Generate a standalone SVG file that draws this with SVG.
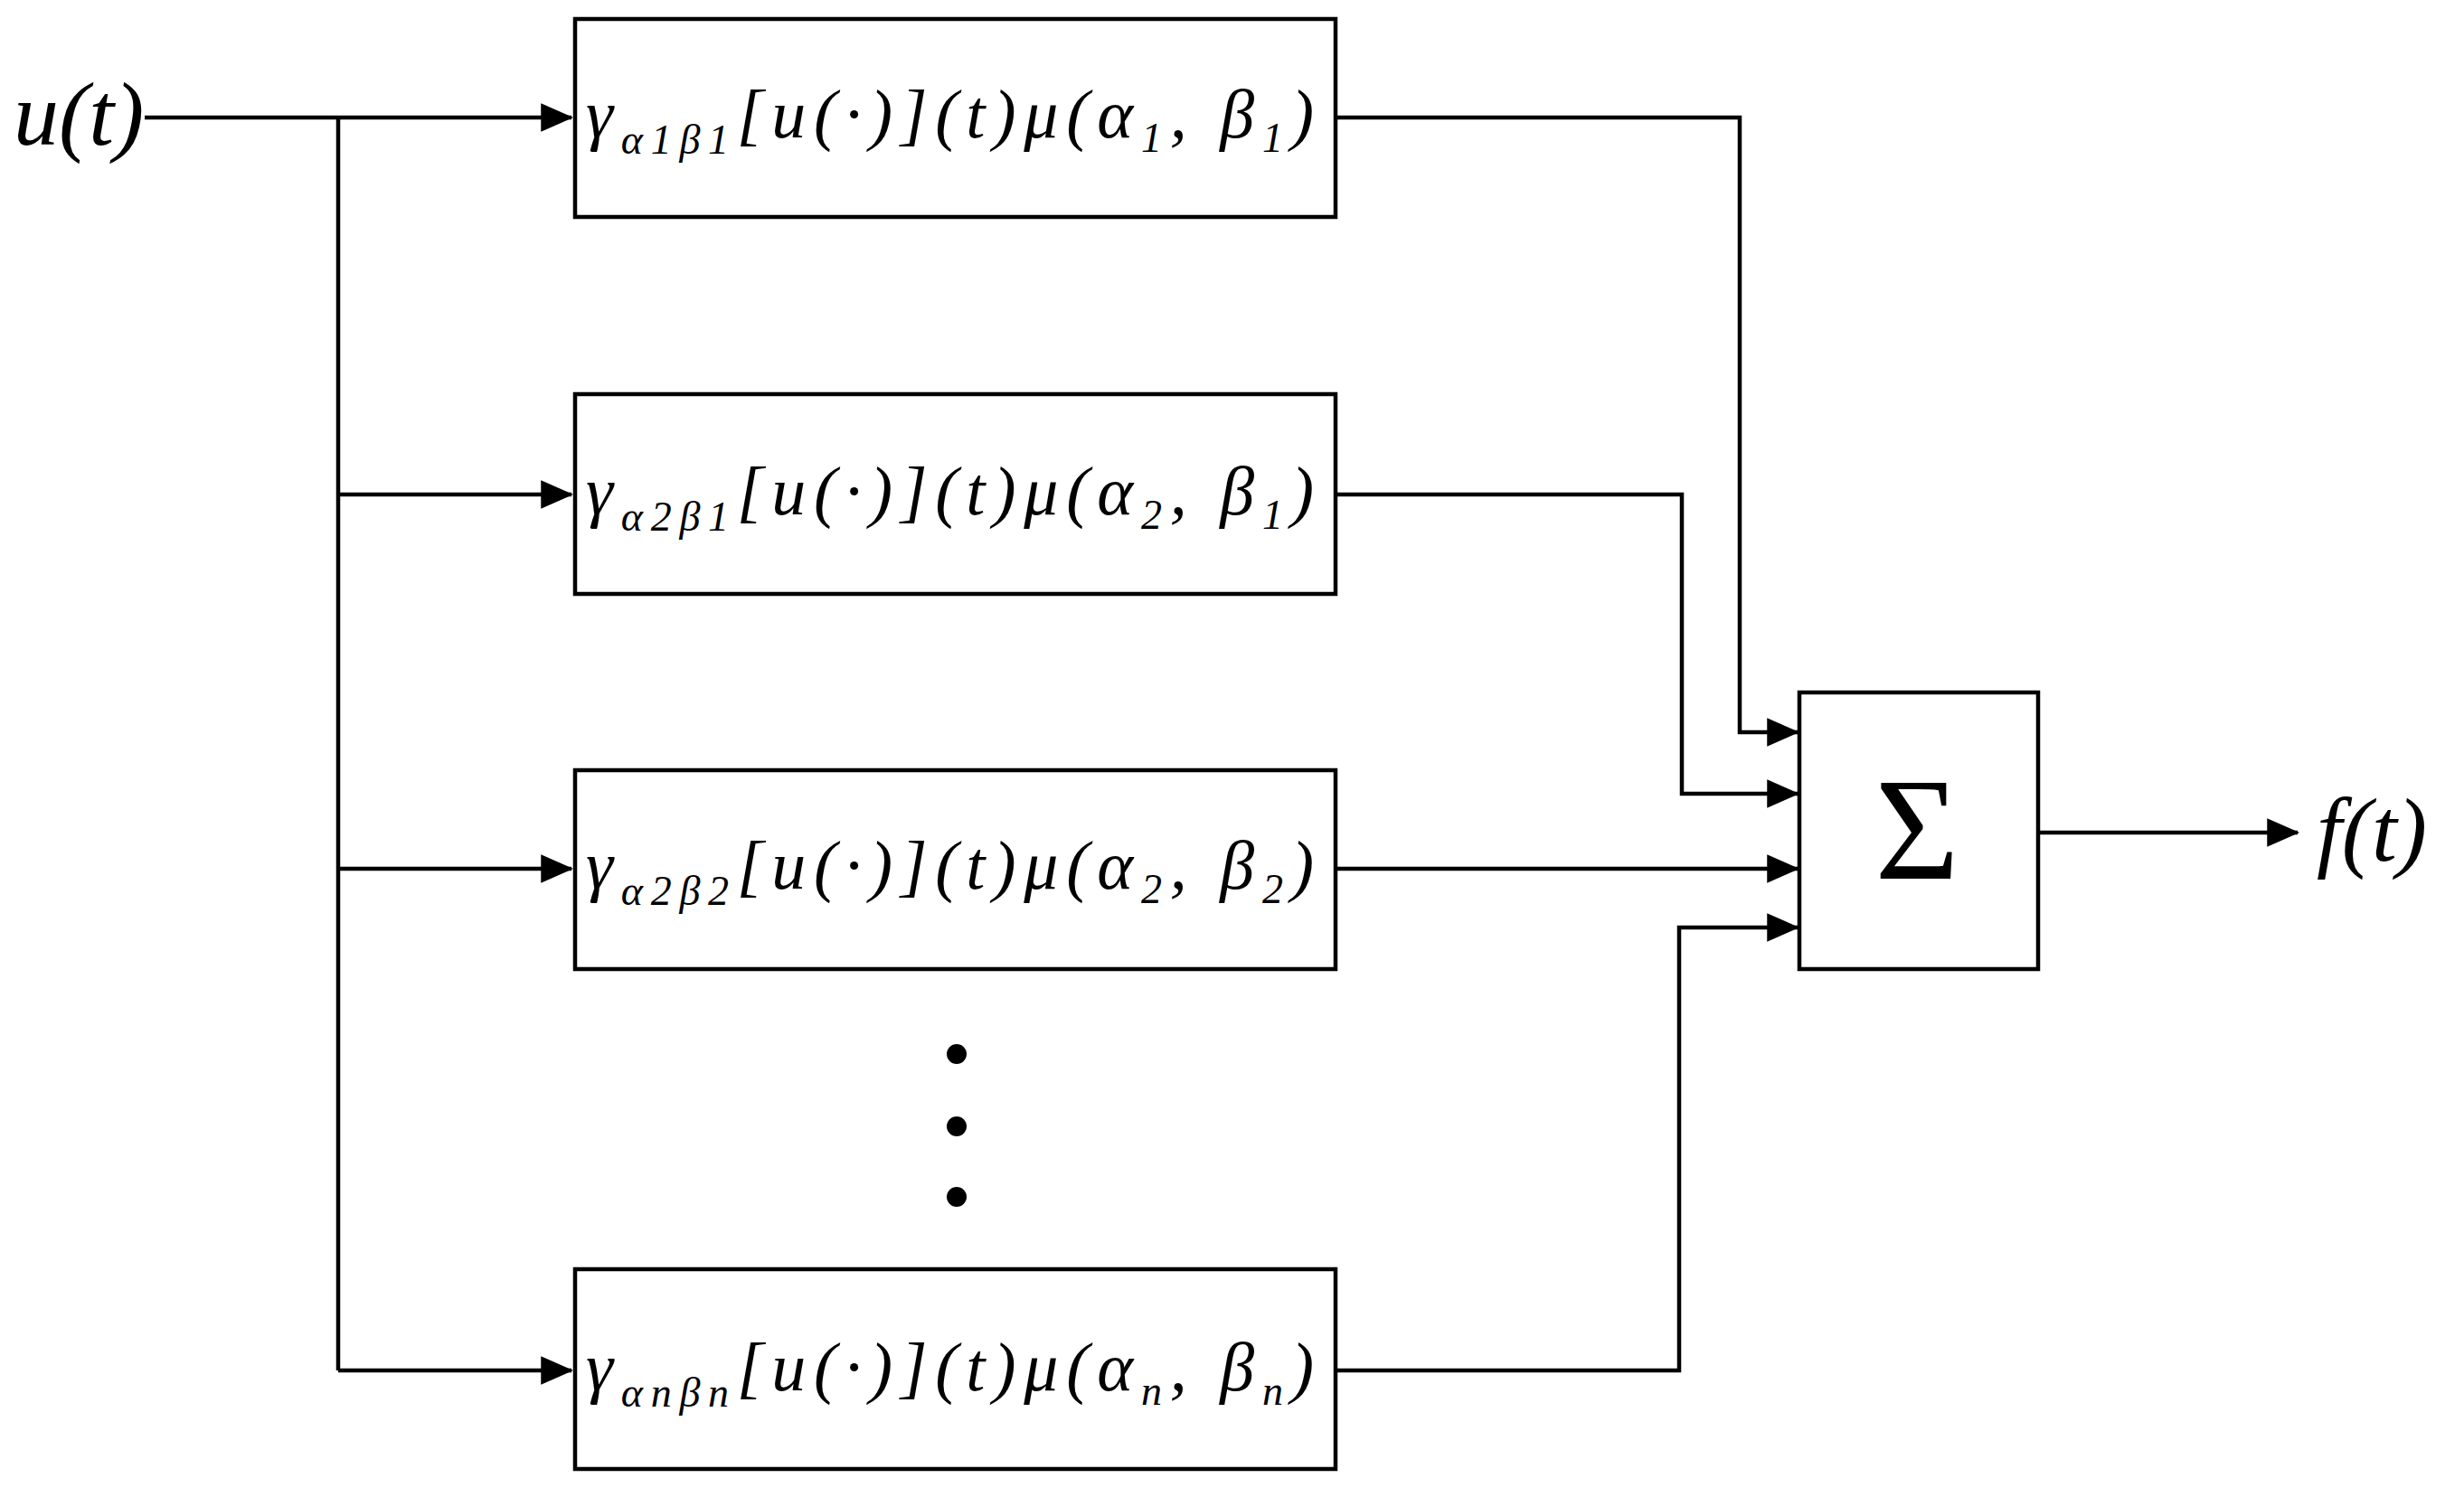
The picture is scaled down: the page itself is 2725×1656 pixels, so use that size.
<svg xmlns="http://www.w3.org/2000/svg" width="2725" height="1656" viewBox="0 0 2725 1656">
<style>
.box{fill:#fff;stroke:#000;stroke-width:4.5}
.ln{fill:none;stroke:#000;stroke-width:4.5}
.t{font-family:"Liberation Serif","DejaVu Serif",serif;font-style:italic;font-size:76px;fill:#000}
.s{font-size:46px}
.big{font-family:"Liberation Serif","DejaVu Serif",serif;font-style:italic;font-size:100px;fill:#000}
</style>
<defs>
<marker id="a" markerWidth="8" markerHeight="7" refX="7.5" refY="3.5" orient="auto" markerUnits="strokeWidth"><path d="M0,0 L8,3.5 L0,7 Z" fill="#000"/></marker>
</defs>
<rect width="2725" height="1656" fill="#fff"/>
<g id="connectors">
<path class="ln" d="M160,130 H632" marker-end="url(#a)"/>
<path class="ln" d="M374,130 V1516"/>
<path class="ln" d="M374,547 H632" marker-end="url(#a)"/>
<path class="ln" d="M374,961 H632" marker-end="url(#a)"/>
<path class="ln" d="M374,1516 H632" marker-end="url(#a)"/>
<path class="ln" d="M1477,130 H1924 V810 H1988" marker-end="url(#a)"/>
<path class="ln" d="M1477,547 H1860 V878 H1988" marker-end="url(#a)"/>
<path class="ln" d="M1477,961 H1988" marker-end="url(#a)"/>
<path class="ln" d="M1477,1516 H1857 V1026 H1988" marker-end="url(#a)"/>
<path class="ln" d="M2254,921 H2541" marker-end="url(#a)"/>
</g>
<g id="input"><text class="big" x="15" y="160">u(t)</text></g>
<g id="output"><text class="big" x="2562" y="952">f(t)</text></g>
<g id="b1"><rect class="box" x="636" y="21" width="841" height="219"/>
<text class="t" x="648" y="152" textLength="805" lengthAdjust="spacing">γ<tspan class="s" dy="18">α1β1</tspan><tspan dy="-18">[u(·)](t)μ(α</tspan><tspan class="s" dy="16">1</tspan><tspan dy="-16">, β</tspan><tspan class="s" dy="16">1</tspan><tspan dy="-16">)</tspan></text></g>
<g id="b2"><rect class="box" x="636" y="436" width="841" height="221"/>
<text class="t" x="648" y="569" textLength="805" lengthAdjust="spacing">γ<tspan class="s" dy="18">α2β1</tspan><tspan dy="-18">[u(·)](t)μ(α</tspan><tspan class="s" dy="16">2</tspan><tspan dy="-16">, β</tspan><tspan class="s" dy="16">1</tspan><tspan dy="-16">)</tspan></text></g>
<g id="b3"><rect class="box" x="636" y="852" width="841" height="220"/>
<text class="t" x="648" y="983" textLength="805" lengthAdjust="spacing">γ<tspan class="s" dy="18">α2β2</tspan><tspan dy="-18">[u(·)](t)μ(α</tspan><tspan class="s" dy="16">2</tspan><tspan dy="-16">, β</tspan><tspan class="s" dy="16">2</tspan><tspan dy="-16">)</tspan></text></g>
<g id="b4"><rect class="box" x="636" y="1404" width="841" height="221"/>
<text class="t" x="648" y="1538" textLength="805" lengthAdjust="spacing">γ<tspan class="s" dy="18">αnβn</tspan><tspan dy="-18">[u(·)](t)μ(α</tspan><tspan class="s" dy="16">n</tspan><tspan dy="-16">, β</tspan><tspan class="s" dy="16">n</tspan><tspan dy="-16">)</tspan></text></g>
<g id="dots"><circle cx="1058" cy="1166" r="11"/><circle cx="1058" cy="1246" r="11"/><circle cx="1058" cy="1324" r="11"/></g>
<g id="sum"><rect class="box" x="1990" y="766" width="264" height="306"/>
<text x="2120" y="972" text-anchor="middle" font-family="'Liberation Serif','DejaVu Serif',serif" font-size="160">Σ</text></g>
</svg>
